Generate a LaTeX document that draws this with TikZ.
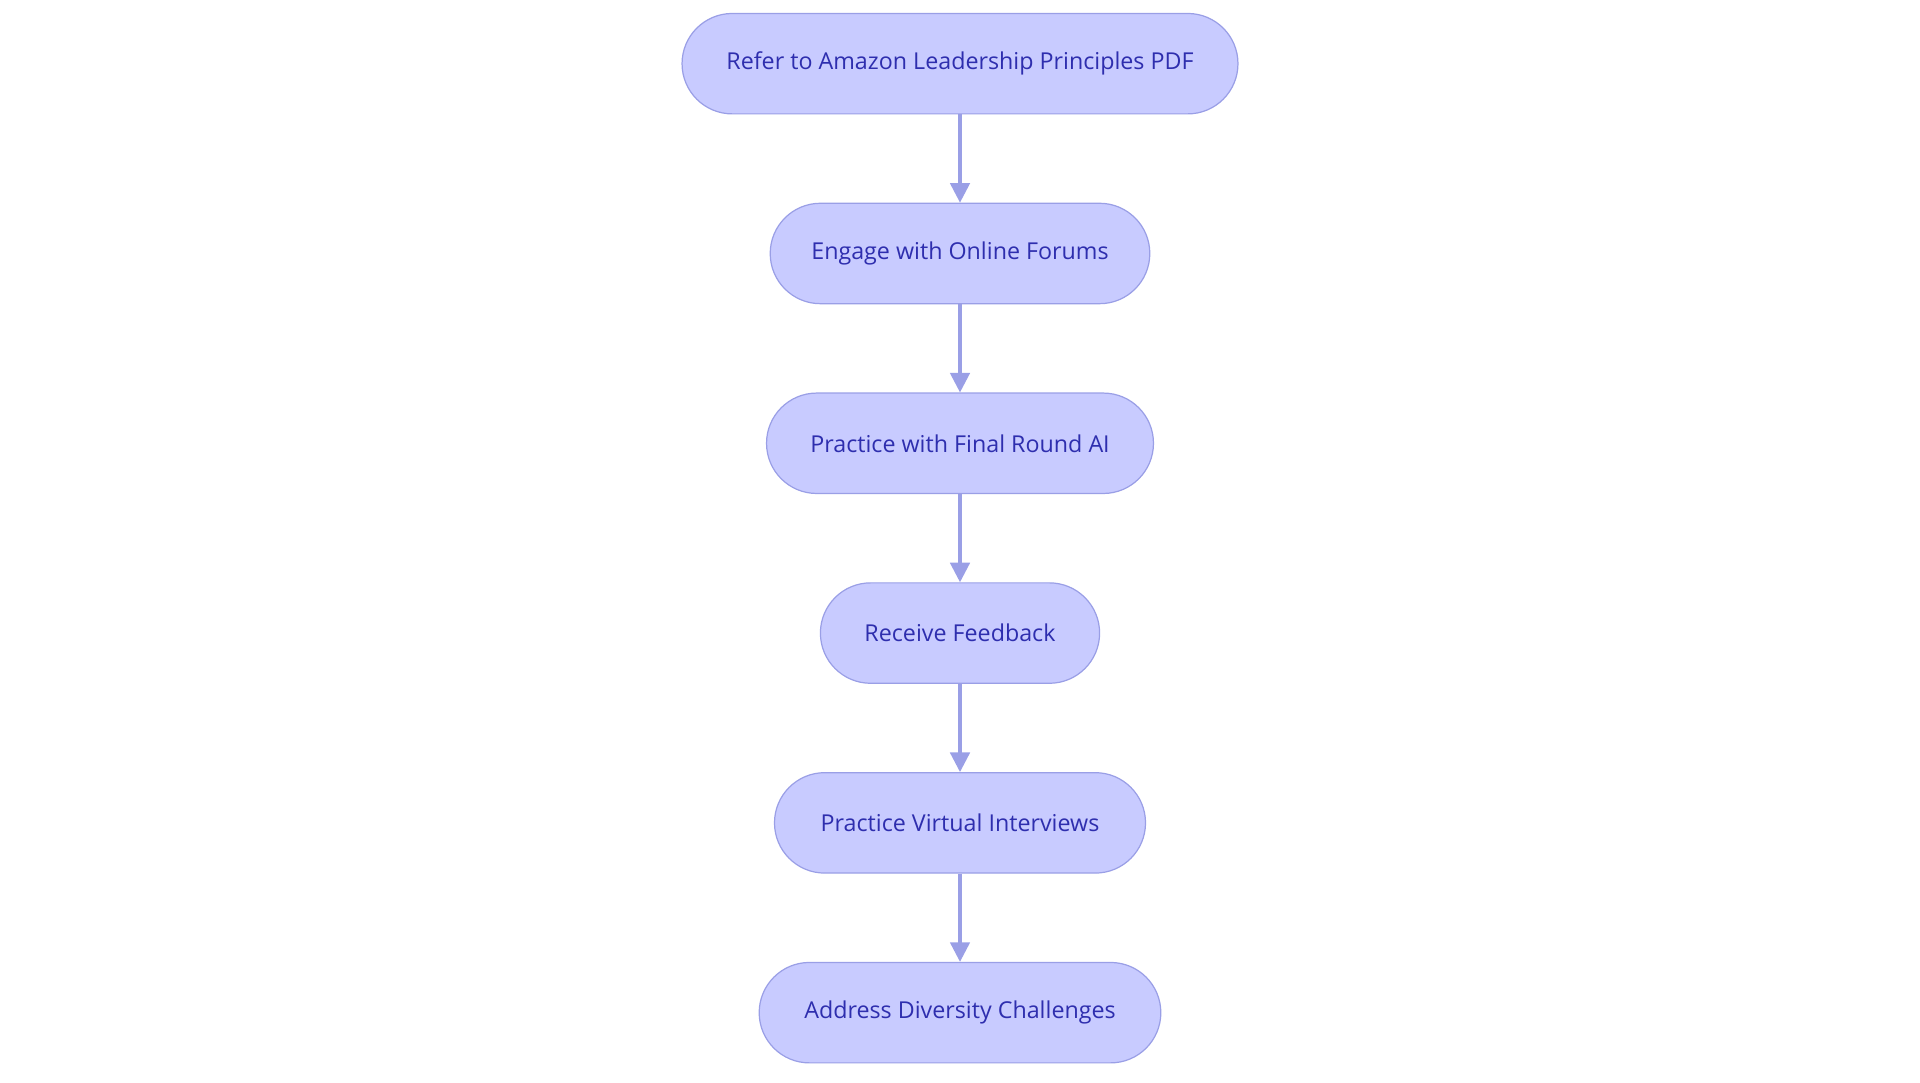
\documentclass[tikz,border=0pt]{standalone}
\usepackage{fontspec}
\setmainfont{Open Sans}
\usetikzlibrary{arrows.meta,positioning}
\definecolor{stagefill}{HTML}{C8CBFF}
\definecolor{stageline}{HTML}{9A9FE6}
\definecolor{stagetext}{HTML}{2E2EAE}
\tikzset{
  stage/.style={draw=stageline, fill=stagefill, text=stagetext, line width=1pt,
    rounded corners=41pt, minimum height=82pt, inner sep=0pt,
    font=\fontsize{19}{22}\selectfont},
  flow/.style={draw=stageline, line width=2.5pt, -{Triangle[length=16pt,width=16pt]}}
}
\begin{document}
\begin{tikzpicture}[x=1pt,y=-1pt]
  \useasboundingbox (0,0) rectangle (1568,884);
  \node[stage, minimum width=454pt] (pdf) at (784,52) {Refer to Amazon Leadership Principles PDF};
  \node[stage, minimum width=310pt] (forum) at (784,207) {Engage with Online Forums};
  \node[stage, minimum width=316pt] (ai) at (784,362) {Practice with Final Round AI};
  \node[stage, minimum width=228pt] (feed) at (784,517) {Receive Feedback};
  \node[stage, minimum width=303pt] (virt) at (784,672) {Practice Virtual Interviews};
  \node[stage, minimum width=328pt] (div) at (784,827) {Address Diversity Challenges};
  % connectors
  \draw[flow] (pdf) -- (forum);
  \draw[flow] (forum) -- (ai);
  \draw[flow] (ai) -- (feed);
  \draw[flow] (feed) -- (virt);
  \draw[flow] (virt) -- (div);
\end{tikzpicture}
\end{document}
